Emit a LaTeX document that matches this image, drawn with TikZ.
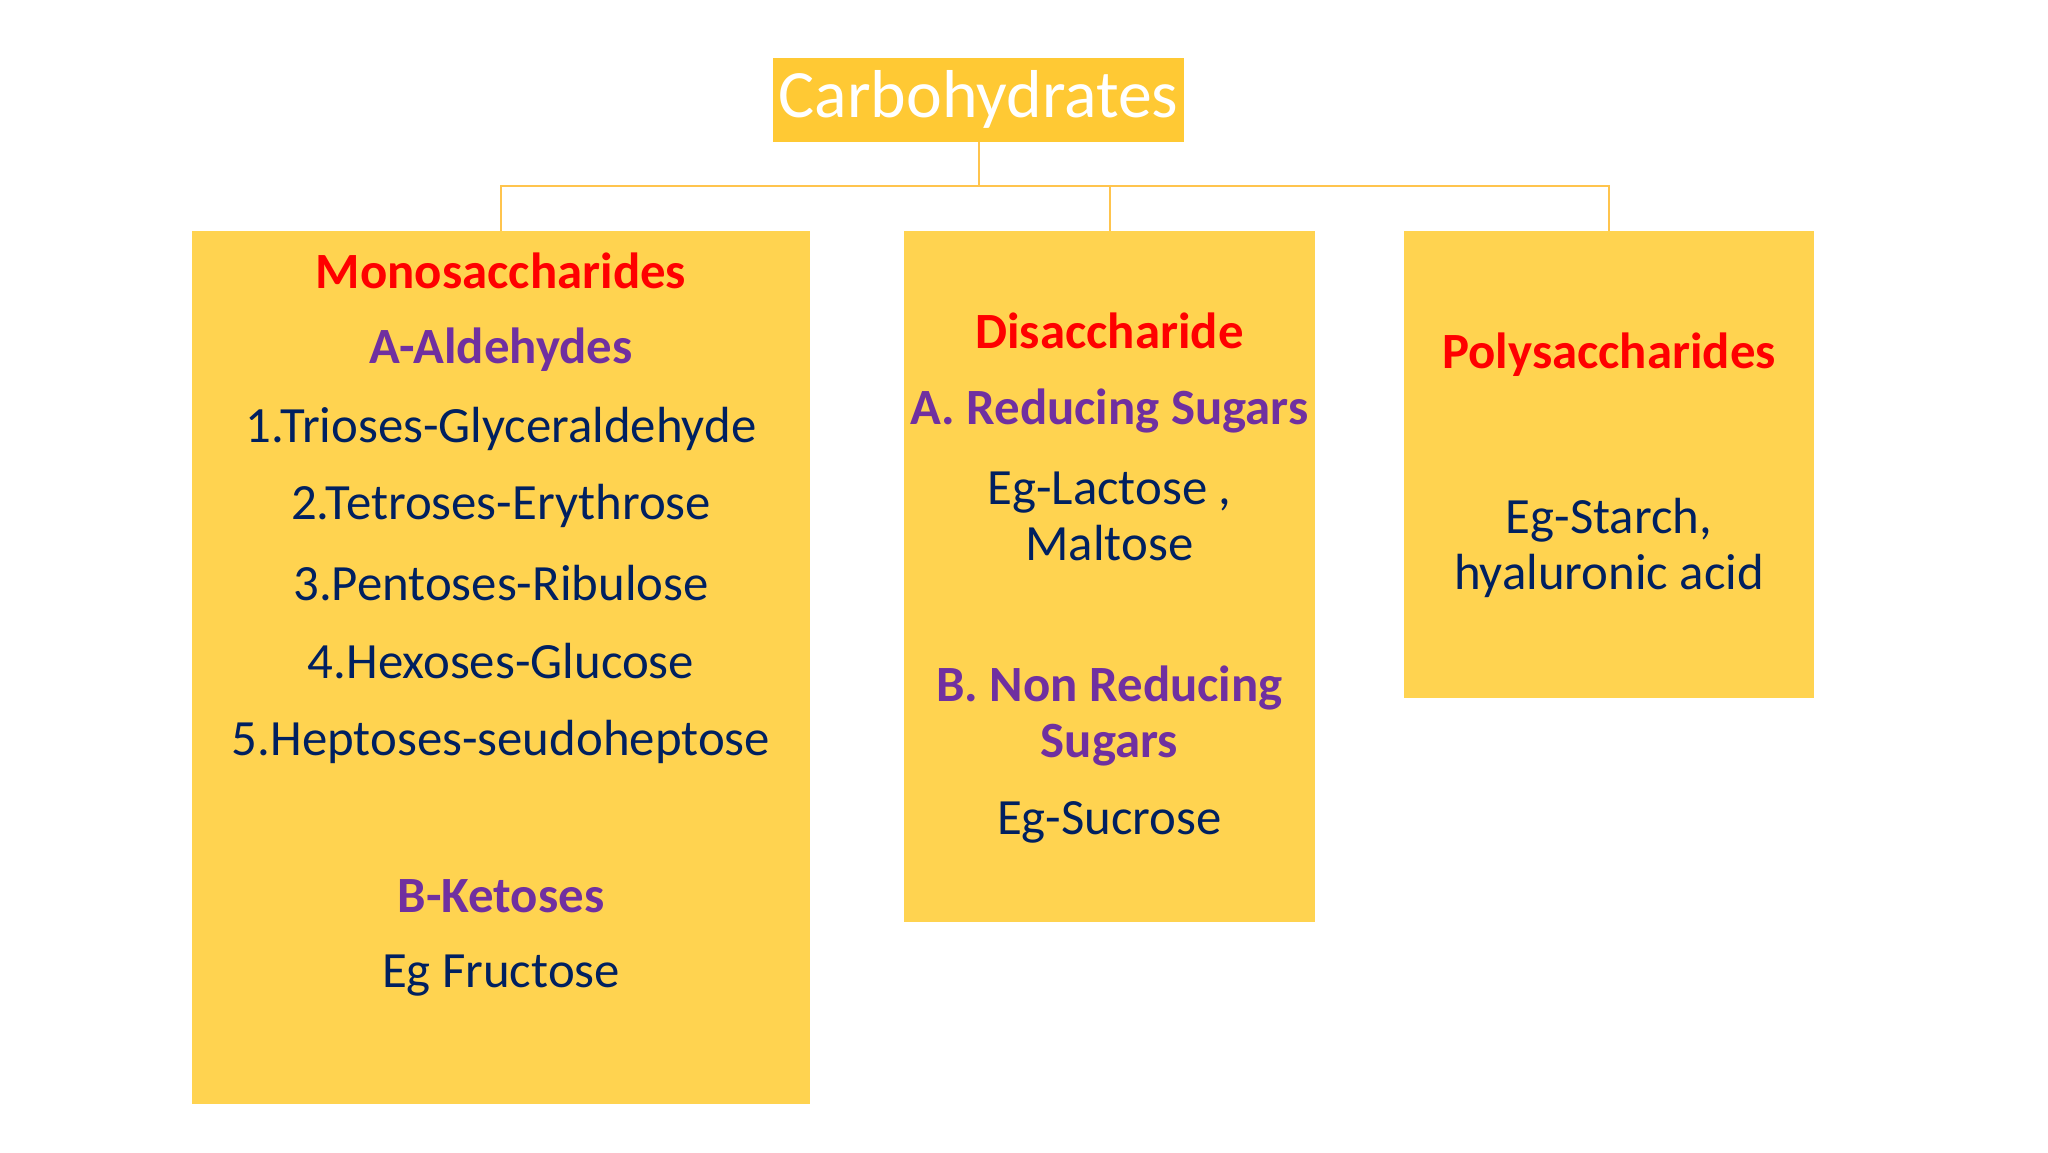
\documentclass[tikz,border=0pt]{standalone}
\usepackage{fontspec}
\setmainfont{Carlito}
\usepackage{xcolor}
\usetikzlibrary{positioning}
\definecolor{titlefill}{HTML}{FFC934}
\definecolor{boxfill}{HTML}{FFD350}
\definecolor{linkcol}{HTML}{FFC44D}
\definecolor{headred}{HTML}{FF0000}
\definecolor{subpurple}{HTML}{7030A0}
\definecolor{bodynavy}{HTML}{002060}
\tikzset{
  card/.style={fill=boxfill, draw=none, anchor=north west, inner sep=0pt},
  link/.style={draw=linkcol, line width=2bp},
  head/.style={text=headred, font=\fontsize{51}{56}\selectfont\bfseries, inner sep=0pt},
  sub/.style={text=subpurple, font=\fontsize{51}{56}\selectfont\bfseries, inner sep=0pt, align=center},
  body/.style={text=bodynavy, font=\fontsize{51}{56}\selectfont, inner sep=0pt, align=center},
}
\begin{document}
\begin{tikzpicture}[x=1bp,y=-1bp]
  \fill[white] (0,0) rectangle (2048,1152);
  \useasboundingbox (0,0) rectangle (2048,1152);

  % title and the three groups
  \node[fill=titlefill, text=white, font=\fontsize{68}{80}\selectfont,
        minimum width=411bp, minimum height=84bp, inner sep=0pt] (carb) at (978.5,99.5) {Carbohydrates};
  \node[card, minimum width=618bp, minimum height=873bp] (mono) at (192,231) {};
  \node[card, minimum width=411bp, minimum height=691bp] (di) at (904,231) {};
  \node[card, minimum width=410bp, minimum height=467bp] (poly) at (1404,231) {};

  % tree lines
  \coordinate (hub) at (978.5,186);
  \draw[link] (carb.south) -- (hub);
  \draw[link] (hub) -| (mono.north);
  \draw[link] (hub) -| (di.north);
  \draw[link] (hub) -| (poly.north);

  % monosaccharides
  \node[head] (monoh) at (501,271) {Monosaccharides};
  \node[sub]  (ald)   at (501,350) {A-Aldehydes};
  \node[body] (tri)   at (501,429) {1.Trioses-Glyceraldehyde};
  \node[body] (tet)   at (501,506) {2.Tetroses-Erythrose};
  \node[body] (pen)   at (501,583) {3.Pentoses-Ribulose};
  \node[body] (hex)   at (501,661) {4.Hexoses-Glucose};
  \node[body] (hep)   at (501,742) {5.Heptoses-seudoheptose};
  \node[sub]  (ket)   at (501,896) {B-Ketoses};
  \node[body] (fru)   at (501,976) {Eg Fructose};

  % disaccharide
  \node[head] (dih)  at (1109.5,331) {Disaccharide};
  \node[sub]  (red)  at (1109.5,411) {A. Reducing Sugars};
  \node[body] (lac)  at (1109.5,516) {Eg-Lactose ,\\ Maltose};
  \node[sub]  (nred) at (1109.5,716) {B. Non Reducing\\ Sugars};
  \node[body] (suc)  at (1109.5,822) {Eg-Sucrose};

  % polysaccharides
  \node[head] (polyh) at (1609,355) {Polysaccharides};
  \node[body] (sta)   at (1609,548) {Eg-Starch,\\ hyaluronic acid};
\end{tikzpicture}
\end{document}
